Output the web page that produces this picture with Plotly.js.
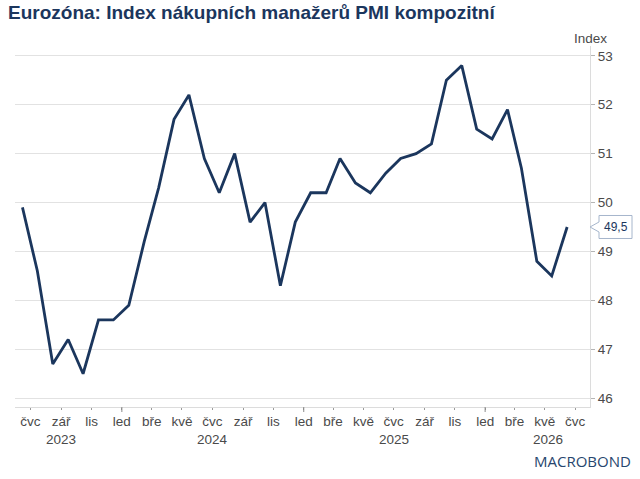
<!DOCTYPE html>
<html>
<head>
<meta charset="utf-8">
<script src="https://cdn.plot.ly/plotly-3.0.1.min.js"></script>
<style>
  html, body { margin: 0; padding: 0; background: #ffffff; }
  #chart { width: 640px; height: 479px; }
</style>
</head>
<body>
<div id="chart"></div>
<script>
// Eurozone composite PMI, monthly readings (plotted mid-month)
const months = [
  '2023-06-15','2023-07-15','2023-08-15','2023-09-15','2023-10-15','2023-11-15','2023-12-15',
  '2024-01-15','2024-02-15','2024-03-15','2024-04-15','2024-05-15','2024-06-15',
  '2024-07-15','2024-08-15','2024-09-15','2024-10-15','2024-11-15','2024-12-15',
  '2025-01-15','2025-02-15','2025-03-15','2025-04-15','2025-05-15','2025-06-15',
  '2025-07-15','2025-08-15','2025-09-15','2025-10-15','2025-11-15','2025-12-15',
  '2026-01-15','2026-02-15','2026-03-15','2026-04-15','2026-05-15','2026-06-15'
];
const pmi = [
  49.9, 48.6, 46.7, 47.2, 46.5, 47.6, 47.6,
  47.9, 49.2, 50.3, 51.7, 52.2, 50.9,
  50.2, 51.0, 49.6, 50.0, 48.3, 49.6,
  50.2, 50.2, 50.9, 50.4, 50.2, 50.6,
  50.9, 51.0, 51.2, 52.5, 52.8, 51.5,
  51.3, 51.9, 50.7, 48.8, 48.5, 49.5
];

// Czech month abbreviations used on the time axis
const monthNames = ['led','úno','bře','dub','kvě','čvn','čvc','srp','zář','říj','lis','pro'];
const years = ['2023', '2024', '2025', '2026'];
const yearCentres = ['2023-09-01', '2024-07-01', '2025-07-01', '2026-05-08'];

const navy = '#1b365d';
const textGrey = '#4a4a4a';
const font = 'Liberation Sans, Arial, sans-serif';

// bi-monthly ticks from July 2023 to July 2026
const tickVals = [], tickText = [], janTicks = [];
for (let i = 0; i <= 36; i += 2) {
  const y = 2023 + Math.floor((6 + i) / 12);
  const m = (6 + i) % 12;
  const d = y + '-' + String(m + 1).padStart(2, '0') + '-01';
  tickVals.push(d);
  tickText.push(monthNames[m]);
  if (m === 0) janTicks.push(d);
}

const lastVal = pmi[pmi.length - 1];
const lastLabel = lastVal.toFixed(1).replace('.', ',');

// longer ticks marking the start of each year
const shapes = janTicks.map(d => ({
  type: 'line', xref: 'x', yref: 'paper',
  x0: d, x1: d,
  ysizemode: 'pixel', yanchor: 0, y0: 0, y1: -5,
  line: { color: '#8a8a8a', width: 1 }
}));

// value callout on the right axis
shapes.push({
  type: 'path', xref: 'paper', yref: 'y',
  xsizemode: 'pixel', xanchor: 1,
  ysizemode: 'pixel', yanchor: lastVal,
  path: 'M 0,0 L 9,5 L 9,11.5 L 42,11.5 L 42,-11.5 L 9,-11.5 L 9,-5 Z',
  fillcolor: '#ffffff',
  line: { color: '#a6b6cc', width: 1 },
  layer: 'above'
});

const annotations = years.map((yr, i) => ({
  text: yr, x: yearCentres[i], xref: 'x', y: 0, yref: 'paper',
  yanchor: 'middle', yshift: -32, showarrow: false,
  font: { family: font, size: 13.5, color: textGrey }
}));

annotations.push({
  text: lastLabel, x: 1, xref: 'paper', xanchor: 'center', xshift: 25.5,
  y: lastVal, yref: 'y', yanchor: 'middle', showarrow: false,
  font: { family: font, size: 12, color: navy }
});

annotations.push({
  text: 'Index', x: 1, xref: 'paper', xanchor: 'center',
  y: 1, yref: 'paper', yanchor: 'middle', yshift: 8, showarrow: false,
  font: { family: font, size: 13.5, color: textGrey }
});

annotations.push({
  text: 'MACROBOND', x: 1, xref: 'paper', xanchor: 'right', xshift: 43,
  y: 0, yref: 'paper', yanchor: 'middle', yshift: -54, showarrow: false,
  font: { family: 'Open Sans, sans-serif', size: 15, color: '#27466e' }
});

const trace = {
  x: months, y: pmi, type: 'scatter', mode: 'lines',
  line: { color: navy, width: 2.8 },
  hoverinfo: 'skip'
};

const layout = {
  width: 640, height: 479,
  margin: { l: 15, r: 50, t: 46, b: 72 },
  paper_bgcolor: '#ffffff', plot_bgcolor: '#ffffff',
  separators: ', ',
  showlegend: false,
  title: {
    text: '<b>Eurozóna: Index nákupních manažerů PMI kompozitní</b>',
    x: 8 / 640, xanchor: 'left', xref: 'container',
    y: 1 - 6 / 479, yanchor: 'top', yref: 'container',
    font: { family: font, size: 19, color: navy }
  },
  xaxis: {
    type: 'date',
    range: ['2023-05-31', '2026-07-31'],
    tickmode: 'array', tickvals: tickVals, ticktext: tickText,
    ticks: 'outside', ticklen: 2, tickcolor: '#9a9a9a',
    showgrid: false, zeroline: false,
    showline: true, linecolor: '#dcdcdc', linewidth: 1,
    tickfont: { family: font, size: 13.5, color: textGrey },
    fixedrange: true
  },
  yaxis: {
    side: 'right',
    range: [45.82, 53.2],
    tick0: 46, dtick: 1,
    ticks: 'outside', ticklen: 4, tickcolor: '#b5b5b5',
    showgrid: true, gridcolor: '#e2e2e2', gridwidth: 1,
    zeroline: false,
    showline: true, linecolor: '#dcdcdc', linewidth: 1,
    tickfont: { family: font, size: 13.5, color: textGrey },
    fixedrange: true
  },
  shapes: shapes,
  annotations: annotations
};

Plotly.newPlot('chart', [trace], layout, { displayModeBar: false, staticPlot: true });
</script>
</body>
</html>
